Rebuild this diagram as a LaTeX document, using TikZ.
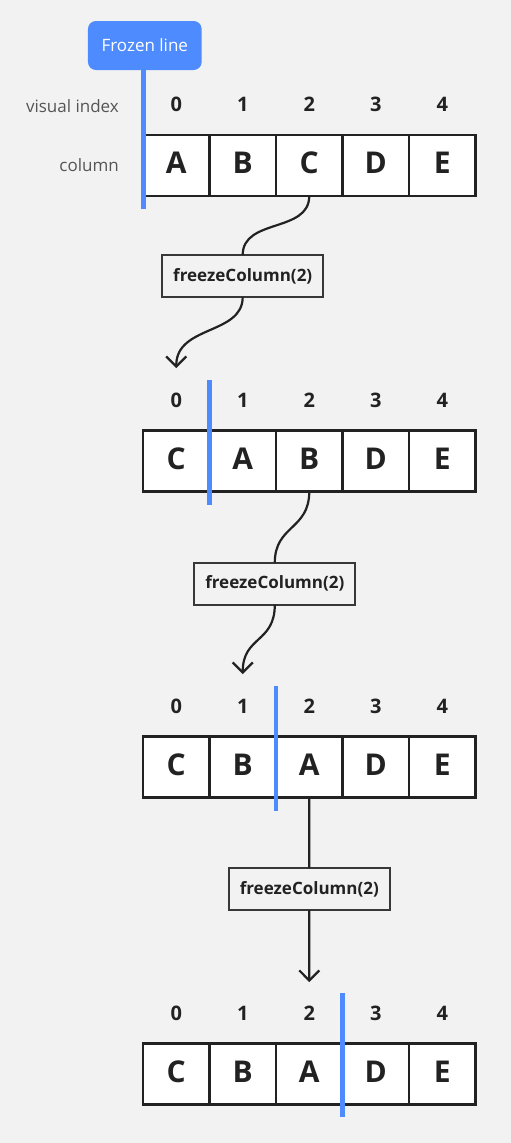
\documentclass[tikz,border=0pt]{standalone}
\usepackage{fontspec}
\setmainfont{Open Sans}
\usetikzlibrary{arrows.meta}
\definecolor{bg}{HTML}{F2F2F2}
\definecolor{frz}{HTML}{4D8BFF}
\definecolor{ink}{HTML}{222222}
\definecolor{lbl}{HTML}{555555}
\begin{document}
\begin{tikzpicture}[x=1pt,y=-1pt,
 cell/.style={draw=ink,line width=2.5pt,fill=white,minimum width=66.5pt,minimum height=61pt,inner sep=0pt,outer sep=0pt},
 letter/.style={anchor=base,font=\bfseries\fontsize{30}{36}\selectfont,text=ink,inner sep=0pt},
 idx/.style={anchor=base,font=\bfseries\fontsize{20}{24}\selectfont,text=ink,inner sep=0pt},
 side/.style={anchor=base east,font=\fontsize{17}{20}\selectfont,text=lbl,inner sep=0pt},
 opbox/.style={draw=ink!90,line width=2pt,fill=bg,minimum width=161pt,minimum height=42pt,inner sep=0pt,outer sep=0pt,font=\bfseries\fontsize{17}{20}\selectfont,text=ink},
 frozen/.style={draw=frz,line width=4.6pt},
 link/.style={draw=ink,line width=2.2pt},
 flow/.style={link,-{Straight Barb[length=10pt,width=20pt]}}
]
\fill[bg] (0,0) rectangle (511,1143);
\useasboundingbox (0,0) rectangle (511,1143);

\foreach \r/\t/\ls in {1/135/{A,B,C,D,E},2/430.5/{C,A,B,D,E},3/736.5/{C,B,A,D,E},4/1043.5/{C,B,A,D,E}}{
  \foreach \L [count=\i from 0] in \ls {
    \node[cell] (c\r\i) at ({176.25+66.5*\i},{\t+30.5}) {};
    \node[letter] (l\r\i) at ({176.25+66.5*\i},{\t+38.5}) {\L};
    \node[idx] (n\r\i) at ({176.25+66.5*\i},{\t-23.5}) {\i};
  }
}

\node[side] (vi) at (119,112.3) {visual index};
\node[side] (col) at (119,171.7) {column};

% frozen line label
\node[fill=frz,rounded corners=8pt,minimum width=113.7pt,minimum height=49pt,inner sep=0pt,outer sep=0pt,text=white,font=\fontsize{17}{20}\selectfont] (fl) at (144.8,45.5) {Frozen line};

% frozen lines
\coordinate (f1a) at (143.7,70);
\coordinate (f1b) at (143.7,209);
\coordinate (f2a) at (209.5,380);
\coordinate (f2b) at (209.5,504.5);
\coordinate (f3a) at (276,686);
\coordinate (f3b) at (276,810.5);
\coordinate (f4a) at (342.5,992.5);
\coordinate (f4b) at (342.5,1117);
\draw[frozen] (f1a) -- (f1b);
\draw[frozen] (f2a) -- (f2b);
\draw[frozen] (f3a) -- (f3b);
\draw[frozen] (f4a) -- (f4b);

% operation boxes
\node[opbox] (op1) at (242.7,276) {freezeColumn(2)};
\node[opbox] (op2) at (274.8,583.7) {freezeColumn(2)};
\node[opbox] (op3) at (309.3,889) {freezeColumn(2)};

% arrow tips
\coordinate (t1) at (176.25,368);
\coordinate (t2) at (242.75,674);
\coordinate (t3) at (309.25,982);

% connectors
\draw[link] (c12.south) .. controls (309.25,233) and (242.7,218) .. (op1.north);
\draw[flow] (op1.south) .. controls (242.7,335) and (176.25,325) .. (t1);
\draw[link] (c22.south) .. controls (309.25,530) and (274.8,525) .. (op2.north);
\draw[flow] (op2.south) .. controls (274.8,643) and (242.75,636) .. (t2);
\draw[link] (c32.south) -- (op3.north);
\draw[flow] (op3.south) -- (t3);
\end{tikzpicture}
\end{document}
